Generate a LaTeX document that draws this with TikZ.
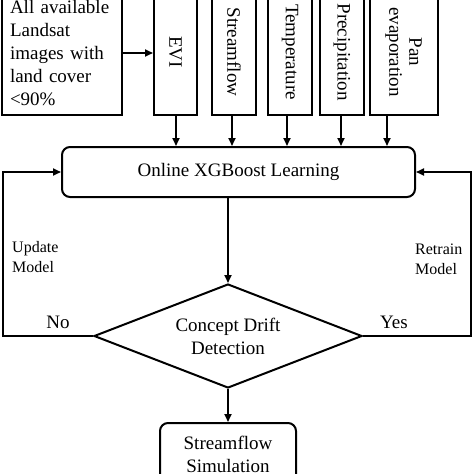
\documentclass[tikz,border=0pt]{standalone}
\usepackage{fontspec}
\setmainfont{Liberation Serif}
\usetikzlibrary{shapes.geometric,arrows.meta}
\begin{document}
\begin{tikzpicture}[x=1pt,y=-1pt,
  every node/.style={font=\fontsize{19}{23}\selectfont},
  box/.style={draw,line width=2pt,inner sep=0pt},
  rbox/.style={draw,line width=2pt,rounded corners=8pt,inner sep=0pt},
  arr/.style={line width=1.8pt,-{Triangle[length=8pt,width=7pt]}},
  ln/.style={line width=1.8pt},
  small/.style={font=\fontsize{16}{20}\selectfont,align=left}
]
\useasboundingbox (0,0) rectangle (474,474);
\clip (0,0) rectangle (474,474);
\fill[white] (0,0) rectangle (474,474);
% top boxes
\node[box,minimum width=120pt,minimum height=123pt,text width=104pt,inner xsep=8pt,align=left] (landsat) at (62,53.5)
  {All available\\Landsat\\images with\\land cover\\{<}90\%};
\node[box,minimum width=43pt,minimum height=126pt] (evi) at (175.5,52) {\rotatebox{-90}{EVI}};
\node[box,minimum width=44pt,minimum height=126pt] (sf) at (234,52) {\rotatebox{-90}{Streamflow}};
\node[box,minimum width=44pt,minimum height=126pt] (temp) at (290,52) {\rotatebox{-90}{Temperature}};
\node[box,minimum width=44pt,minimum height=126pt] (prec) at (342,52) {\rotatebox{-90}{Precipitation}};
\node[box,minimum width=68pt,minimum height=126pt] (pan) at (404,52) {\rotatebox{-90}{\begin{tabular}{@{}c@{}}Pan\\[-3pt]evaporation\end{tabular}}};
% online box
\node[rbox,minimum width=353pt,minimum height=50pt] (online) at (238.5,172) {Online XGBoost Learning};
% diamond
\node[draw,line width=2pt,diamond,aspect=2.58,minimum width=268pt,minimum height=104pt,inner sep=0pt,align=center] (cdd) at (228,336)
  {Concept Drift\\Detection};
% simulation box
\node[rbox,minimum width=136pt,minimum height=62pt,align=center] (sim) at (228,454) {Streamflow\\Simulation};
% coordinates for loops
\coordinate (lx) at (3,0);
\coordinate (rx) at (471,0);
% arrows
\draw[arr] (landsat.east |- 0,53) -- (evi.west |- 0,53);
\draw[arr] (evi.south -| 176,0) -- (online.north -| 176,0);
\draw[arr] (sf.south -| 232,0) -- (online.north -| 232,0);
\draw[arr] (temp.south -| 287,0) -- (online.north -| 287,0);
\draw[arr] (prec.south -| 341,0) -- (online.north -| 341,0);
\draw[arr] (pan.south -| 387,0) -- (online.north -| 387,0);
\draw[arr] (online.south -| cdd.north) -- (cdd.north);
\draw[arr] (cdd.south) -- (sim.north);
\draw[arr] (cdd.west) -- (lx |- cdd.west) -- (lx |- online.west) -- (online.west);
\draw[arr] (cdd.east) -- (rx |- cdd.east) -- (rx |- online.east) -- (online.east);
% labels
\node (no) at (58,322) {No};
\node (yes) at (394,322) {Yes};
\node[small,anchor=west,inner sep=0pt] (upd) at (12,257) {Update\\Model};
\node[small,anchor=west,inner sep=0pt] (ret) at (415,259.5) {Retrain\\Model};
\end{tikzpicture}
\end{document}
